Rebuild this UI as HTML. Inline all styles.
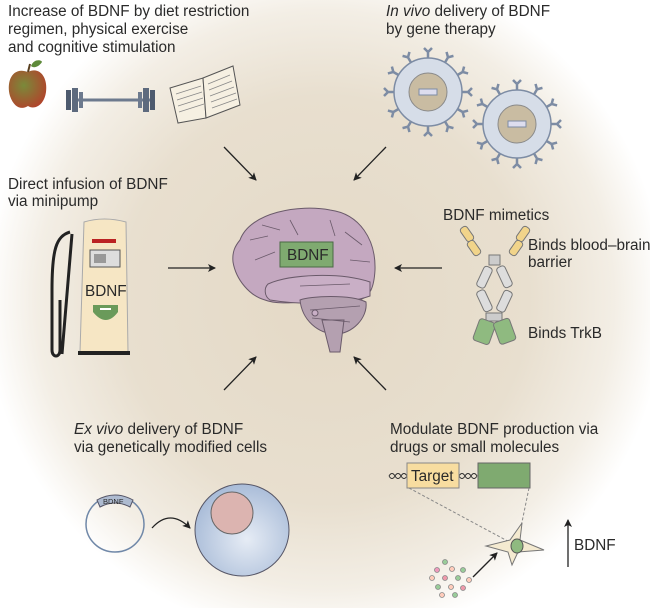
<!DOCTYPE html>
<html><head><meta charset="utf-8"><style>
html,body{margin:0;padding:0;background:#fff}
svg{display:block}
text{font-family:"Liberation Sans",sans-serif;fill:#2a2a2a}
</style></head><body>
<svg width="650" height="608" viewBox="0 0 650 608" xmlns="http://www.w3.org/2000/svg" font-size="15.3">
<defs>
<radialGradient id="bg" cx="325" cy="300" r="340" gradientUnits="userSpaceOnUse">
<stop offset="0" stop-color="#e4d9c6"/><stop offset="0.6" stop-color="#e8dfcf"/><stop offset="0.85" stop-color="#f3eee5"/><stop offset="1" stop-color="#ffffff"/></radialGradient>
<radialGradient id="apple" cx="0.4" cy="0.4" r="0.7"><stop offset="0" stop-color="#7a8a3a"/><stop offset="1" stop-color="#b4402a"/></radialGradient>
<radialGradient id="cell" cx="0.55" cy="0.6" r="0.6"><stop offset="0" stop-color="#e6ecf5"/><stop offset="1" stop-color="#a9bcd8"/></radialGradient>
<marker id="ah" markerWidth="8" markerHeight="8" refX="7" refY="4" orient="auto" markerUnits="userSpaceOnUse"><path d="M0,0 L8,4 L0,8 L2,4z" fill="#222"/></marker>
<g id="virus">
<g stroke="#7d8ca4" stroke-width="2.5" fill="none">
<path d="M0,-33 V-40 M-4,-44 L0,-40 L4,-44"/><path d="M0,-33 V-40 M-4,-44 L0,-40 L4,-44" transform="rotate(30)"/><path d="M0,-33 V-40 M-4,-44 L0,-40 L4,-44" transform="rotate(60)"/><path d="M0,-33 V-40 M-4,-44 L0,-40 L4,-44" transform="rotate(90)"/><path d="M0,-33 V-40 M-4,-44 L0,-40 L4,-44" transform="rotate(120)"/><path d="M0,-33 V-40 M-4,-44 L0,-40 L4,-44" transform="rotate(150)"/><path d="M0,-33 V-40 M-4,-44 L0,-40 L4,-44" transform="rotate(180)"/><path d="M0,-33 V-40 M-4,-44 L0,-40 L4,-44" transform="rotate(210)"/><path d="M0,-33 V-40 M-4,-44 L0,-40 L4,-44" transform="rotate(240)"/><path d="M0,-33 V-40 M-4,-44 L0,-40 L4,-44" transform="rotate(270)"/><path d="M0,-33 V-40 M-4,-44 L0,-40 L4,-44" transform="rotate(300)"/><path d="M0,-33 V-40 M-4,-44 L0,-40 L4,-44" transform="rotate(330)"/>
</g>
<circle r="34" fill="#d6dde8" stroke="#7d8ca4" stroke-width="1.5"/>
<circle r="19" fill="#c9bca2" stroke="#8a8a8a"/>
<rect x="-9" y="-3" width="18" height="6" fill="#dde" stroke="#7d8ca4"/>
</g>
</defs>
<rect width="650" height="608" fill="url(#bg)"/>

<!-- top-left text -->
<text x="8" y="16">Increase of BDNF by diet restriction</text>
<text x="8" y="34">regimen, physical exercise</text>
<text x="8" y="52">and cognitive stimulation</text>
<!-- apple -->
<path d="M28,72 C12,66 6,82 10,96 C14,108 22,110 28,106 C34,110 44,106 46,92 C48,78 40,66 28,72z" fill="url(#apple)"/>
<path d="M28,72 L30,64" stroke="#5a4020" stroke-width="2"/>
<path d="M31,66 C34,58 42,60 42,62 C38,68 33,68 31,66z" fill="#5e8a3a"/>
<!-- dumbbell -->
<line x1="72" y1="100" x2="150" y2="100" stroke="#6d7a8e" stroke-width="3"/>
<rect x="66" y="90" width="5" height="20" fill="#4d5a6e"/><rect x="72" y="88" width="6" height="24" fill="#5d6a7e"/><rect x="79" y="92" width="4" height="16" fill="#6d7a8e"/>
<rect x="138" y="92" width="4" height="16" fill="#6d7a8e"/><rect x="143" y="88" width="6" height="24" fill="#5d6a7e"/><rect x="150" y="90" width="5" height="20" fill="#4d5a6e"/>
<!-- book -->
<path d="M170,88 L203,78 L206,118 L178,123z" fill="#f6f0e2" stroke="#555"/>
<path d="M203,78 L233,66 L240,105 L206,118z" fill="#f6f0e2" stroke="#555"/>
<g stroke="#888" stroke-width="0.8"><path d="M176,94 L201,86 M177,100 L202,92 M178,106 L203,98 M179,112 L204,104"/><path d="M208,84 L230,75 M209,90 L232,81 M210,96 L234,87 M211,102 L236,93 M212,108 L237,99"/></g>

<!-- In vivo text -->
<text x="386" y="16"><tspan font-style="italic">In vivo</tspan> delivery of BDNF</text>
<text x="386" y="34">by gene therapy</text>
<use href="#virus" transform="translate(428,92)"/>
<use href="#virus" transform="translate(517,124)"/>

<!-- arrows -->
<g stroke="#222" stroke-width="1.3" marker-end="url(#ah)">
<line x1="224" y1="147" x2="256" y2="180"/>
<line x1="386" y1="147" x2="354" y2="180"/>
<line x1="168" y1="268" x2="215" y2="268"/>
<line x1="442" y1="268" x2="395" y2="268"/>
<line x1="224" y1="390" x2="256" y2="357"/>
<line x1="386" y1="390" x2="354" y2="357"/>
</g>

<!-- minipump -->
<text x="8" y="189">Direct infusion of BDNF</text>
<text x="8" y="206">via minipump</text>
<path d="M70,232 C56,236 52,250 52,290 L52,350 C52,358 60,358 60,350 L60,300" fill="none" stroke="#222" stroke-width="3"/>
<path d="M72,234 L62,354" stroke="#222" stroke-width="3" fill="none"/>
<path d="M84,222 Q104,216 126,222 L128,352 L80,352z" fill="#f6e6c4" stroke="#aaa"/>
<rect x="92" y="239" width="24" height="4" fill="#b22"/>
<rect x="90" y="250" width="30" height="17" fill="#ddd" stroke="#555"/><rect x="94" y="254" width="12" height="9" fill="#999"/>
<text x="85" y="296">BDNF</text>
<path d="M93,305 H118 V312 Q106,328 93,312z" fill="#6a9a5a"/><rect x="100" y="308" width="11" height="2" fill="#fff"/>
<rect x="78" y="351" width="52" height="4" fill="#222"/>

<!-- brain -->
<path d="M240,240 C250,212 300,204 330,210 C360,214 376,240 375,270 C374,288 370,296 360,300 C350,302 330,300 305,302 C290,303 275,304 265,300 C250,296 236,280 233,262 C232,252 235,246 240,240z" fill="#c4a8c0" stroke="#6a5a6a"/>
<path d="M268,284 C290,274 340,272 370,282 L370,296 C345,305 300,305 270,300 C264,296 264,288 268,284z" fill="#c9afc6" stroke="#6a5a6a"/>
<path d="M300,300 C310,296 350,294 366,302 C368,318 352,334 336,334 C318,334 302,320 300,300z" fill="#b4a0b0" stroke="#6a5a6a"/>
<path d="M322,320 L330,352 L340,352 L344,320z" fill="#b4a0b0" stroke="#6a5a6a"/>
<circle cx="315" cy="313" r="3" fill="#c9afc6" stroke="#6a5a6a"/>
<g stroke="#6a5a6a" stroke-width="0.8" fill="none"><path d="M250,240 L268,236 M255,260 L275,252 M290,220 L298,235 M330,220 L335,236 M345,232 L362,245 M350,260 L370,262 M300,286 L350,284 M310,310 L360,306 M312,318 L350,322 M262,225 L280,230"/></g>
<rect x="280" y="242" width="53" height="25" fill="#7faa70" stroke="#4a6a44"/>
<text x="287" y="260">BDNF</text>

<!-- mimetics -->
<text x="443" y="220">BDNF mimetics</text>
<text x="528" y="250">Binds blood–brain</text>
<text x="528" y="267">barrier</text>
<text x="528" y="338">Binds TrkB</text>
<g stroke="#777" stroke-width="1">
<rect x="463" y="226" width="8" height="16" rx="3" fill="#f1d48a" transform="rotate(-35 467 234)"/>
<rect x="470" y="240" width="8" height="16" rx="3" fill="#f1d48a" transform="rotate(-35 474 248)"/>
<rect x="519" y="226" width="8" height="16" rx="3" fill="#f1d48a" transform="rotate(35 523 234)"/>
<rect x="512" y="240" width="8" height="16" rx="3" fill="#f1d48a" transform="rotate(35 516 248)"/>
<rect x="489" y="255" width="11" height="10" fill="#ccc"/>
<rect x="480" y="266" width="9" height="22" rx="3" fill="#ddd" transform="rotate(25 484 277)"/>
<rect x="500" y="266" width="9" height="22" rx="3" fill="#ddd" transform="rotate(-25 504 277)"/>
<rect x="480" y="290" width="9" height="22" rx="3" fill="#ddd" transform="rotate(-25 484 301)"/>
<rect x="500" y="290" width="9" height="22" rx="3" fill="#ddd" transform="rotate(25 504 301)"/>
<rect x="486" y="313" width="16" height="8" fill="#ccc"/>
<rect x="476" y="320" width="17" height="23" rx="3" fill="#8fba80" transform="rotate(20 484 331)"/>
<rect x="496" y="320" width="17" height="23" rx="3" fill="#8fba80" transform="rotate(-20 504 331)"/>
</g>

<!-- ex vivo -->
<text x="74" y="434"><tspan font-style="italic">Ex vivo</tspan> delivery of BDNF</text>
<text x="74" y="452">via genetically modified cells</text>
<ellipse cx="115" cy="524" rx="29" ry="28" fill="none" stroke="#7088a8" stroke-width="1.5"/>
<path d="M97,500 Q115,490 133,500 L130,507 Q115,499 100,507z" fill="#aebbd0" stroke="#556"/>
<text x="103" y="504" style="font-size:7.5px">BDNF</text>
<path d="M152,528 Q170,508 190,528" fill="none" stroke="#222" stroke-width="1.3" marker-end="url(#ah)"/>
<ellipse cx="242" cy="530" rx="47" ry="46" fill="url(#cell)" stroke="#556"/>
<circle cx="232" cy="513" r="21" fill="#dcb4b0" stroke="#666"/>

<!-- modulate -->
<text x="390" y="434">Modulate BDNF production via</text>
<text x="390" y="452">drugs or small molecules</text>
<path d="M389,476 q3,-5 6,0 t6,0 t6,0 M389,476 q3,5 6,0 t6,0 t6,0" stroke="#333" fill="none"/>
<path d="M459,476 q3,-5 6,0 t6,0 t6,0 M459,476 q3,5 6,0 t6,0 t6,0" stroke="#333" fill="none"/>
<rect x="407" y="463" width="52" height="25" fill="#f8dda0" stroke="#888"/>
<text x="411" y="481">Target</text>
<rect x="478" y="463" width="52" height="25" fill="#7faa70" stroke="#666"/>
<g stroke="#888" stroke-dasharray="3,2"><line x1="409" y1="488" x2="515" y2="545"/><line x1="529" y1="488" x2="521" y2="527"/></g>
<path d="M522,523 L520,540 L544,550 L518,552 L512,565 L508,552 L486,546 L510,540z" fill="#f4ead0" stroke="#777"/>
<ellipse cx="517" cy="546" rx="6" ry="7" fill="#8fba80" stroke="#555"/>
<line x1="568" y1="567" x2="568" y2="520" stroke="#222" stroke-width="1.3" marker-end="url(#ah)"/>
<text x="574" y="550">BDNF</text>
<line x1="473" y1="577" x2="497" y2="553" stroke="#222" stroke-width="1.3" marker-end="url(#ah)"/>
<g stroke-width="0.8" stroke="#888">
<circle cx="445" cy="562" r="2.5" fill="#9c9"/><circle cx="437" cy="570" r="2.5" fill="#e9b"/><circle cx="452" cy="569" r="2.5" fill="#fcb"/><circle cx="463" cy="570" r="2.5" fill="#9c9"/><circle cx="432" cy="578" r="2.5" fill="#fcb"/><circle cx="445" cy="578" r="2.5" fill="#e9a"/><circle cx="458" cy="578" r="2.5" fill="#9c9"/><circle cx="469" cy="580" r="2.5" fill="#fcb"/><circle cx="438" cy="587" r="2.5" fill="#9c9"/><circle cx="451" cy="587" r="2.5" fill="#fcb"/><circle cx="463" cy="588" r="2.5" fill="#e9a"/><circle cx="442" cy="595" r="2.5" fill="#fcb"/><circle cx="455" cy="595" r="2.5" fill="#9c9"/>
</g>
</svg>
</body></html>
